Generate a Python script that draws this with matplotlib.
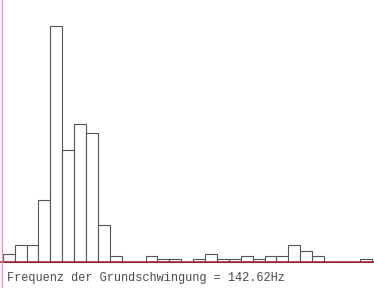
import matplotlib
matplotlib.use("Agg")
import matplotlib.pyplot as plt
import numpy as np

# histogram counts per bin (31 bins)
bins = np.arange(31)
counts = [3, 6, 6, 22, 84, 40, 49, 46, 13, 2,
          0, 0, 2, 1, 1, 0, 1, 3, 1, 1,
          2, 1, 2, 2, 6, 4, 2, 0, 0, 0, 1]
label = "Frequenz der Grundschwingung = 142.62Hz"

fig = plt.figure(figsize=(3.74, 2.88), dpi=100)
ax = fig.add_axes([0, 0, 1, 1])

ax.bar(bins, counts, width=1, align='edge', color='white',
       edgecolor='#555555', linewidth=0.8, zorder=2)

# red baseline and left marker line
ax.axhline(0, color='#a8182c', linewidth=1.1, zorder=3)
ax.axvline(-0.04, color='#e49aa6', linewidth=0.9, zorder=3)

ax.set_xlim(-2.7 / 11.9, (374 - 2.7) / 11.9)
ax.set_ylim(-26 / 2.81, (288 - 26) / 2.81)
ax.axis('off')

fig.text(7 / 374, 6.5 / 288, label, fontsize=8.6, family='Liberation Mono',
         color='#4a4a4a', va='baseline', ha='left')

fig.savefig("out.png", dpi=100)
